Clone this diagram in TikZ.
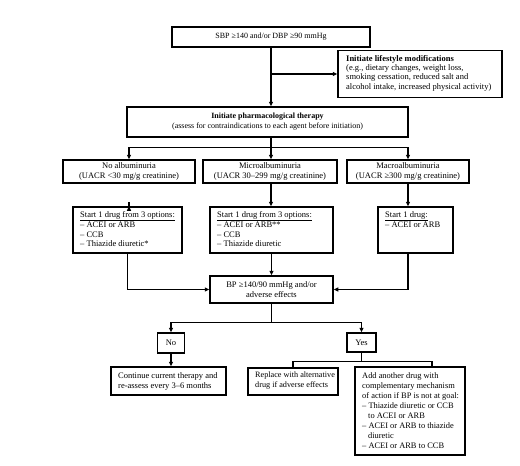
\documentclass[tikz,border=0pt]{standalone}
\usepackage{fontspec}
\setmainfont{Liberation Serif}
\usetikzlibrary{arrows.meta}
\newcommand\dfont{\fontsize{8.5}{9.4}\selectfont}
\newcommand\sfont{\fontsize{8}{10}\selectfont}
\begin{document}
\begin{tikzpicture}[x=1pt,y=-1pt,
  box/.style={draw, line width=1.5pt, inner sep=0pt, align=center, font=\dfont},
  txt/.style={inner sep=0pt, align=left, font=\dfont, anchor=north west},
  conn/.style={line width=1.3pt},
  arr/.style={line width=1.3pt, -{Triangle[length=4.5pt,width=4pt]}}]
\useasboundingbox[fill=white] (0,0) rectangle (520,466);
% boxes
\node[box, font=\sfont, minimum width=198pt, minimum height=20pt] (top) at (271,37) {SBP ≥140 and/or DBP ≥90 mmHg};
\node[box, minimum width=164pt, minimum height=47pt] (life) at (420,74) {};
\node[txt] (lifet) at (346,55) {\textbf{Initiate lifestyle modifications}\\(e.g., dietary changes, weight loss,\\smoking cessation, reduced salt and\\alcohol intake, increased physical activity)};
\node[box, font=\sfont, minimum width=281pt, minimum height=30pt] (pharm) at (267.5,122) {\textbf{Initiate pharmacological therapy}\\(assess for contraindications to each agent before initiation)};
\node[box, minimum width=132pt, minimum height=23pt] (noalb) at (129,171.5) {No albuminuria\\(UACR <30 mg/g creatinine)};
\node[box, minimum width=134pt, minimum height=23pt] (micro) at (270,171.5) {Microalbuminuria\\(UACR 30–299 mg/g creatinine)};
\node[box, minimum width=122pt, minimum height=23pt] (macro) at (408,171.5) {Macroalbuminuria\\(UACR ≥300 mg/g creatinine)};
\node[box, minimum width=109pt, minimum height=46pt] (drug1) at (127.5,230) {};
\node[txt] (drug1t) at (80,211) {\underline{Start 1 drug from 3 options:}\\– ACEI or ARB\\– CCB\\– Thiazide diuretic*};
\node[box, minimum width=123pt, minimum height=46pt] (drug2) at (271.5,230) {};
\node[txt] (drug2t) at (217,211) {\underline{Start 1 drug from 3 options:}\\– ACEI or ARB**\\– CCB\\– Thiazide diuretic};
\node[box, minimum width=75pt, minimum height=46pt] (drug3) at (415.5,230) {};
\node[txt] (drug3t) at (385,211) {\underline{Start 1 drug:}\\– ACEI or ARB};
\node[box, minimum width=123pt, minimum height=27pt] (bp) at (271.5,289.5) {BP ≥140/90 mmHg and/or\\adverse effects};
\node[box, minimum width=27pt, minimum height=20pt] (no) at (171,343) {No};
\node[box, minimum width=29pt, minimum height=19pt] (yes) at (361.5,342.5) {Yes};
\node[box, minimum width=115pt, minimum height=28pt] (cont) at (168.5,381) {};
\node[txt, font=\fontsize{8.5}{10}\selectfont] (contt) at (118,372) {Continue current therapy and\\re-assess every 3–6 months};
\node[box, minimum width=90pt, minimum height=27pt] (repl) at (293,381.5) {};
\node[txt, font=\fontsize{8.2}{10}\selectfont] (replt) at (255,372) {Replace with alternative\\drug if adverse effects};
\node[box, minimum width=110pt, minimum height=88pt] (add) at (410,411) {};
\node[txt, font=\fontsize{8.4}{10}\selectfont] (addt) at (362,371) {\begin{tabular}{@{}l@{}}Add another drug with\\complementary mechanism\\of action if BP is not at goal:\\– Thiazide diuretic or CCB\\\hspace*{6pt}to ACEI or ARB\\– ACEI or ARB to thiazide\\\hspace*{6pt}diuretic\\– ACEI or ARB to CCB\end{tabular}};
\coordinate (addtop) at (432,367);
% connectors
\draw[arr] (top.south) -- (top.south |- pharm.north);
\draw[arr] (top.south |- life.west) -- (life.west);
\draw[conn] (top.south |- pharm.south) -- ++(0,10) coordinate (j1);
\draw[conn, line cap=rect] (noalb.north |- j1) -- (macro.north |- j1);
\draw[arr] (noalb.north |- j1) -- (noalb.north);
\draw[arr] (j1) -- (j1 |- micro.north);
\draw[arr] (macro.north |- j1) -- (macro.north);
\draw[arr] (drug1.north -| noalb.south) -- (noalb.south |- drug1.north);
\draw[arr] (micro.south -| j1) -- (j1 |- drug2.north);
\draw[arr] (macro.south) -- (macro.south |- drug3.north);
\draw[arr] (drug2.south) -- (drug2.south |- bp.north);
\draw[arr] (drug1.south) |- (bp.west);
\draw[arr] (macro.south |- drug3.south) |- (bp.east);
\draw[conn] (bp.south) -- ++(0,19) coordinate (j2);
\draw[arr] (j2) -| (no.north);
\draw[arr] (j2) -| (yes.north);
\draw[arr] (no.south) -- (no.south |- cont.north);
\draw[conn] (yes.south) -- ++(0,9) coordinate (j3);
\draw[conn] (j3) -| (repl.north);
\draw[conn] (j3) -| (addtop);
\end{tikzpicture}
\end{document}
